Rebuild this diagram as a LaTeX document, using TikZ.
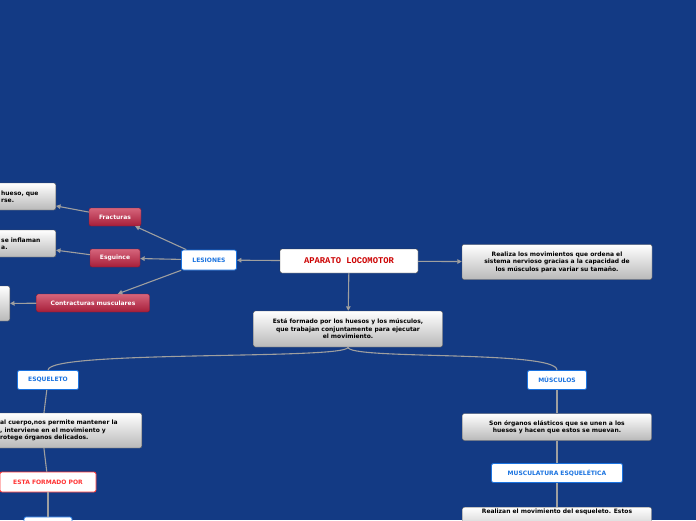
\documentclass[tikz,border=0pt]{standalone}
\usepackage{fontspec}
\setmainfont{DejaVu Sans}
\newfontfamily\monof{Liberation Mono}
\usetikzlibrary{arrows.meta}
\definecolor{bg}{HTML}{133A84}
\definecolor{redb}{HTML}{C42343}
\definecolor{bluet}{HTML}{1A73E0}
\begin{document}
\begin{tikzpicture}[x=1pt,y=-1pt,
  every node/.style={font=\bfseries\fontsize{6}{7.4}\selectfont,inner sep=0pt},
  graybox/.style={rounded corners=2pt,top color=white,bottom color=gray!55,draw=gray!70!black,align=center},
  redbox/.style={rounded corners=2pt,top color=redb!70!white,bottom color=redb!85!black,text=white,draw=redb!70!black},
  wbox/.style={rounded corners=2pt,fill=white,draw=bluet,line width=0.8pt,text=bluet},
  rbox/.style={rounded corners=2pt,fill=white,draw=red!80,line width=0.8pt,text=red!80},
  conn/.style={draw=gray!75,line width=1.1pt},
  arr/.style={conn,-{Triangle[length=4.5pt,width=4.5pt]}}]
\fill[bg] (0,0) rectangle (696,520);
\useasboundingbox (0,0) rectangle (696,520);
\node[fill=white,draw=black!80,rounded corners=2pt,minimum width=138,minimum height=24,text=red!80!black,font=\monof\bfseries\fontsize{8.8}{10}\selectfont] (ap) at (349,261) {APARATO LOCOMOTOR};
\node[graybox,minimum width=190,minimum height=35] (rd) at (557,262) {Realiza los movimientos que ordena el\\sistema nervioso gracias a la capacidad de\\los músculos para variar su tamaño.};
\node[graybox,minimum width=189,minimum height=36] (md) at (348,329) {Está formado por los huesos y los músculos,\\que trabajan conjuntamente para ejecutar\\el movimiento.};
\node[wbox,minimum width=55,minimum height=20] (les) at (209,260) {LESIONES};
\node[redbox,minimum width=52,minimum height=18] (fr) at (115,217) {Fracturas};
\node[redbox,minimum width=50,minimum height=18] (es) at (115,258) {Esguince};
\node[redbox,minimum width=113,minimum height=18] (co) at (93,303) {Contracturas musculares};
\node[graybox,minimum width=100,minimum height=27,anchor=east] (frd) at (56,196.5) {};
\node[anchor=west,align=left] at (1,196.5) {hueso, que\\rse.};
\node[graybox,minimum width=100,minimum height=27,anchor=east] (esd) at (56,243.5) {};
\node[anchor=west,align=left] at (1,243.5) {se inflaman\\a.};
\node[graybox,minimum width=60,minimum height=35,anchor=east] (cod) at (10,303.5) {};
\node[wbox,minimum width=61,minimum height=19] (esq) at (48,380) {ESQUELETO};
\node[wbox,minimum width=59,minimum height=19] (mus) at (557,380) {MÚSCULOS};
\node[graybox,minimum width=200,minimum height=35,anchor=east] (eqd) at (142,430.5) {};
\node[anchor=west,align=left] at (0,430.5) {al cuerpo,nos permite mantener la\\, interviene en el movimiento y\\rotege órganos delicados.};
\node[rbox,minimum width=96,minimum height=20] (efp) at (48,482) {ESTA FORMADO POR};
\node[wbox,minimum width=48,minimum height=20,anchor=north] (b1) at (48,516.5) {};
\node[graybox,minimum width=189,minimum height=27] (msd) at (557,427) {Son órganos elásticos que se unen a los\\huesos y hacen que estos se muevan.};
\node[wbox,minimum width=131,minimum height=19] (me) at (557,473) {MUSCULATURA ESQUELÉTICA};
\node[graybox,minimum width=189,minimum height=30,anchor=north,align=center,text depth=22pt] (bd) at (557,507) {Realizan el movimiento del esqueleto. Estos};
\draw[arr] (ap) -- (rd);
\draw[arr] (ap) -- (les);
\draw[arr] (ap) -- (md);
\draw[arr] (les) -- (fr);
\draw[arr] (les) -- (es);
\draw[arr] (les) -- (co);
\draw[arr] (fr) -- (frd);
\draw[arr] (es) -- (esd);
\draw[arr] (co) -- (cod);
\draw[conn] (md.south) .. controls (348,360) and (48,350) .. (esq.north);
\draw[conn] (md.south) .. controls (348,360) and (557,350) .. (mus.north);
\draw[conn] (esq) -- (eqd);
\draw[conn] (eqd) -- (efp);
\draw[conn] (efp) -- (b1);
\draw[conn] (mus) -- (msd);
\draw[conn] (msd) -- (me);
\draw[conn] (me) -- (bd);
\end{tikzpicture}
\end{document}
